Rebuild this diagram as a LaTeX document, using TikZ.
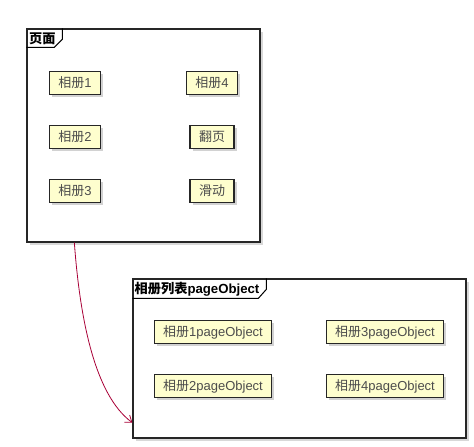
\documentclass[tikz,border=0pt]{standalone}
\usepackage{fontspec}
\setmainfont{Liberation Sans}
\newfontfamily\cjk{Noto Sans CJK SC}
\usetikzlibrary{arrows.meta, shadows, calc}

\definecolor{umlfill}{HTML}{FEFECE}
\definecolor{umlred}{HTML}{A80036}
\newcommand{\zh}[1]{{\cjk #1}}

\tikzset{
  box/.style={draw=black!85, line width=1.1pt, fill=umlfill, minimum height=23,
    inner xsep=9pt, text=black!70, font=\fontsize{13}{15}\selectfont,
    drop shadow={shadow xshift=2.5pt, shadow yshift=-2.5pt, fill=black!35}},
  frame/.style={draw=black!85, line width=1.3pt, fill=white,
    drop shadow={shadow xshift=3pt, shadow yshift=-3pt, fill=black!30}},
  tabtext/.style={anchor=west, inner sep=0pt, font=\fontsize{13.2}{15}\selectfont\bfseries},
  link/.style={draw=umlred, line width=0.8pt, -{Straight Barb[length=6pt,width=9pt]}}
}

\begin{document}
\begin{tikzpicture}[x=1pt, y=-1pt]
\useasboundingbox (0,0) rectangle (474,447);
% frames
\node[frame, minimum width=233, minimum height=213] (page) at (143.5,135.5) {};
\node[frame, minimum width=333, minimum height=159] (album) at (299.5,358.5) {};
\draw[line width=1pt] (page.north west) ++(36,0) -- ++(0,11) -- ++(-8,8) -- ++(-28,0);
\node[tabtext] (pagetitle) at (29,38.5) {\zh{页面}};
\draw[line width=1pt] (album.north west) ++(134,0) -- ++(0,11) -- ++(-8,9) -- ++(-126,0);
\node[tabtext] (albumtitle) at (134.5,289) {\zh{相册列表}pageObject};
% page items
\foreach \n/\x/\y/\t in {p1/75/83/\zh{相册}1, p2/75/137/\zh{相册}2, p3/75/191/\zh{相册}3,
    p4/212/83/\zh{相册}4, flip/212/137/\zh{翻页}, slide/212/191/\zh{滑动}}
  \node[box] (\n) at (\x,\y) {\t};
% album items
\foreach \n/\x/\y/\t in {o1/213/332/1, o2/213/386/2, o3/385/332/3, o4/385/386/4}
  \node[box] (\n) at (\x,\y) {\zh{相册}\t pageObject};
% link
\draw[link] ($(page.south west)+(48,0)$) .. controls (80,320) and (95,395) .. ($(album.south west)+(0,-16)$);
\end{tikzpicture}
\end{document}
